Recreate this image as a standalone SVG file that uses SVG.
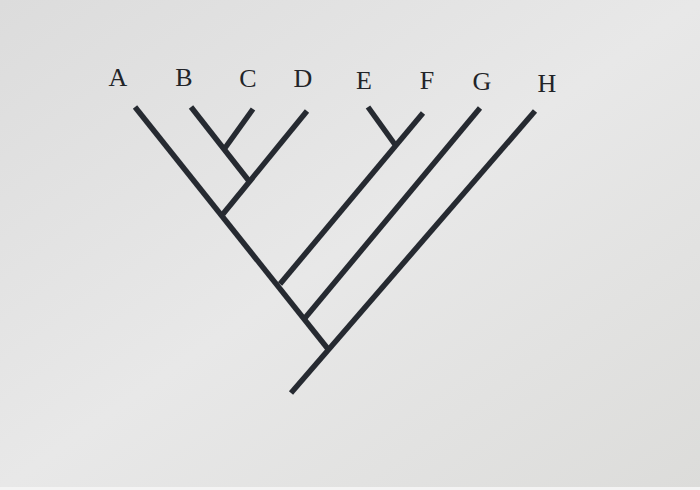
<svg xmlns="http://www.w3.org/2000/svg" width="700" height="490" viewBox="0 0 700 490">
<defs>
<linearGradient id="bg" x1="0" y1="0" x2="1" y2="1">
<stop offset="0" stop-color="#dcdcdc"/>
<stop offset="0.5" stop-color="#e8e8e8"/>
<stop offset="1" stop-color="#dcdcda"/>
</linearGradient>
<style>
.lbl{font-family:"Liberation Serif","Times New Roman",serif;font-size:26px;fill:#222428;text-anchor:middle}
.br{stroke:#262a31;stroke-width:5.5;stroke-linecap:butt;fill:none}
</style>
</defs>
<rect width="700" height="490" fill="url(#bg)"/>
<rect y="487" width="700" height="3" fill="#f4f4f4"/>
<g id="labels">
<text class="lbl" x="118" y="86">A</text>
<text class="lbl" x="184" y="86">B</text>
<text class="lbl" x="248" y="87">C</text>
<text class="lbl" x="303" y="87">D</text>
<text class="lbl" x="364" y="89">E</text>
<text class="lbl" x="427" y="89">F</text>
<text class="lbl" x="482" y="90">G</text>
<text class="lbl" x="547" y="92">H</text>
</g>
<g id="connectors">
<line class="br" x1="135" y1="107" x2="328" y2="349"/>
<line class="br" x1="191" y1="107" x2="249" y2="181"/>
<line class="br" x1="253" y1="109" x2="225" y2="148"/>
<line class="br" x1="307" y1="111" x2="223" y2="214"/>
<line class="br" x1="368" y1="107" x2="396" y2="146"/>
<line class="br" x1="423" y1="113" x2="280" y2="284"/>
<line class="br" x1="480" y1="108" x2="305" y2="318"/>
<line class="br" x1="535" y1="111" x2="291" y2="393"/>
</g>
</svg>
